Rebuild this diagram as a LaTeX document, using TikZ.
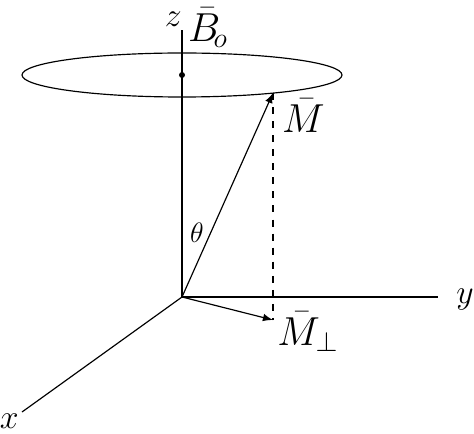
\documentclass[tikz,border=0pt]{standalone}
\usepackage{amsmath}
\usepackage{amssymb}
\usetikzlibrary{positioning}
\usetikzlibrary{calc}
\tikzset{axis line/.style={line width=0.5pt},vec/.style={line width=0.5pt,-latex},lbl/.style={font=\LARGE,inner sep=1pt}}

\begin{document}
\begin{tikzpicture}
\useasboundingbox (0,0) rectangle (7.11,6.495);
\coordinate (O) at (2.73,2.04);
\coordinate (ztop) at (2.73,6.045);
\coordinate (yend) at (6.57,2.04);
\coordinate (xend) at (0.33,0.315);
\coordinate (Mtip) at (4.095,5.1);
\coordinate (Mp) at (4.095,1.695);
\draw[axis line] (O) -- (ztop);
\draw[axis line] (O) -- (yend);
\draw[axis line] (O) -- (xend);
\draw[axis line] (2.73,5.37) ellipse (2.4 and 0.33);
\fill (2.73,5.37) circle (0.045);
\draw[vec] (O) -- (Mtip);
\draw[vec] (O) -- (Mp);
\draw[axis line,dashed] (Mtip) -- (Mp);
\node[font=\Large,inner sep=1pt] (zlab) at (2.6,6.2) {$z$};
\node[lbl] (Blab) at (3.12,6.08) {$\bar{B}_{\!o}$};
\node[lbl] (Mlab) at (4.55,4.76) {$\bar{M}$};
\node[font=\large] (thlab) at (2.955,3.0) {$\theta$};
\node[lbl] (Mplab) at (4.62,1.52) {$\bar{M}_{\perp}$};
\node[font=\Large] (ylab) at (6.975,2.0) {$y$};
\node[font=\Large,inner sep=1pt] (xlab) at (0.14,0.17) {$x$};
\end{tikzpicture}
\end{document}
